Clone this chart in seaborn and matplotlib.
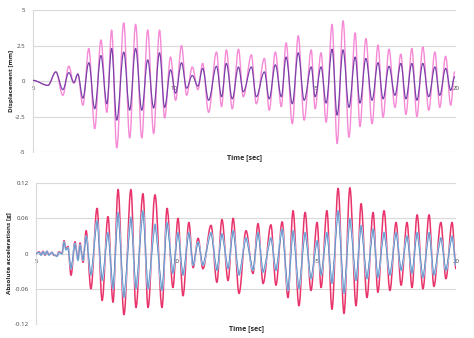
import matplotlib
matplotlib.use("Agg")
import matplotlib.pyplot as plt
from matplotlib.path import Path
from matplotlib.patches import PathPatch
import seaborn as sns
import pandas as pd

# Displacement record: times of successive peaks/troughs [sec] and values [mm]
disp_time = [5.00, 5.53, 5.81, 6.06, 6.27, 6.45, 6.59, 6.77, 6.98, 7.19,
             7.41, 7.62, 7.79, 7.97, 8.22, 8.43, 8.64, 8.86, 9.07, 9.28,
             9.49, 9.67, 9.88, 10.06, 10.27, 10.45, 10.65, 10.85, 11.02, 11.23,
             11.51, 11.69, 11.86, 12.07, 12.29, 12.46, 12.75, 12.92, 13.21, 13.38,
             13.60, 13.81, 13.98, 14.20, 14.41, 14.62, 14.87, 15.01, 15.22, 15.40,
             15.61, 15.79, 16.00, 16.21, 16.43, 16.60, 16.81, 17.03, 17.24, 17.42,
             17.63, 17.84, 18.05, 18.23, 18.44, 18.62, 18.83, 19.04, 19.26, 19.43,
             19.64, 19.82, 19.96]
disp_table = [0.05, -0.3, 0.65, -1.0, 1.05, -0.15, 0.5, -1.7, 2.3, -3.35,
              2.9, -2.2, 3.6, -4.7, 4.1, -4.0, 4.0, -4.0, 3.6, -3.7,
              3.6, -2.6, 1.7, -1.35, 2.5, -1.0, 1.0, -0.6, 1.25, -2.2,
              2.05, -1.8, 2.2, -1.95, 2.25, -1.1, 1.85, -1.6, 1.6, -2.05,
              2.05, -1.8, 2.7, -3.0, 3.2, -2.75, 2.2, -1.95, 2.0, -2.9,
              4.0, -4.4, 4.25, -3.95, 3.4, -3.2, 3.0, -3.0, 2.55, -2.55,
              2.25, -1.85, 1.9, -2.35, 2.3, -2.5, 2.4, -2.05, 2.05, -1.85,
              1.75, -1.7, 0.65]
disp_model = [0.05, -0.3, 0.65, -0.6, 0.6, -0.1, 0.5, -1.2, 1.3, -1.95,
              1.8, -1.6, 2.3, -2.75, 2.05, -2.05, 2.3, -2.05, 1.5, -1.9,
              2.0, -1.85, 0.8, -0.85, 1.3, -0.5, 0.4, -0.35, 0.9, -1.35,
              1.05, -1.1, 1.25, -1.25, 1.0, -0.75, 1.0, -1.1, 0.65, -1.25,
              1.15, -1.1, 1.7, -1.6, 2.0, -1.35, 1.0, -1.1, 1.0, -1.55,
              2.25, -2.4, 2.2, -1.85, 1.7, -1.55, 1.6, -1.35, 1.3, -1.25,
              1.05, -1.0, 1.25, -1.25, 1.25, -1.35, 1.25, -1.1, 1.0, -1.0,
              0.9, -0.65, 0.3]

# Absolute acceleration record: times [sec] and values [g]
acc_time = [5.00, 5.11, 5.18, 5.25, 5.32, 5.39, 5.46, 5.57, 5.64, 5.75,
            5.82, 5.93, 6.00, 6.07, 6.14, 6.25, 6.39, 6.50, 6.57, 6.68,
            6.79, 6.96, 7.18, 7.36, 7.57, 7.75, 7.93, 8.14, 8.39, 8.57,
            8.82, 9.00, 9.25, 9.50, 9.68, 9.89, 10.07, 10.25, 10.46, 10.61,
            10.79, 10.96, 11.25, 11.46, 11.64, 11.86, 12.04, 12.25, 12.50, 12.75,
            12.93, 13.11, 13.39, 13.57, 13.79, 14.00, 14.18, 14.39, 14.61, 14.82,
            15.04, 15.18, 15.39, 15.57, 15.79, 16.00, 16.21, 16.43, 16.61, 16.82,
            17.04, 17.21, 17.43, 17.64, 17.86, 18.04, 18.25, 18.43, 18.61, 18.82,
            19.04, 19.21, 19.46, 19.64, 19.86, 20.00]
acc_table = [0.0, 0.003, -0.002, 0.004, -0.003, 0.004, -0.002, 0.002, -0.003, -0.004,
             0.003, 0.0, 0.022, 0.008, 0.012, -0.037, 0.02, -0.01, 0.018, -0.015,
             0.039, -0.06, 0.077, -0.08, 0.063, -0.083, 0.109, -0.104, 0.109, -0.092,
             0.102, -0.092, 0.1, -0.092, 0.077, -0.058, 0.06, -0.072, 0.053, -0.024,
             0.026, -0.026, 0.048, -0.049, 0.058, -0.046, 0.06, -0.068, 0.039, -0.034,
             0.051, -0.051, 0.049, -0.054, 0.054, -0.075, 0.073, -0.089, 0.07, -0.063,
             0.053, -0.058, 0.073, -0.095, 0.111, -0.102, 0.112, -0.089, 0.085, -0.075,
             0.07, -0.066, 0.073, -0.063, 0.053, -0.054, 0.053, -0.058, 0.066, -0.06,
             0.066, -0.056, 0.053, -0.043, 0.053, -0.026]
acc_model = [0.0, 0.002, -0.003, 0.003, -0.002, 0.004, -0.003, 0.002, -0.002, -0.005,
             0.002, -0.001, 0.02, 0.006, 0.01, -0.026, 0.017, -0.012, 0.015, -0.012,
             0.03, -0.037, 0.056, -0.046, 0.036, -0.06, 0.07, -0.075, 0.062, -0.06,
             0.073, -0.06, 0.05, -0.063, 0.053, -0.034, 0.036, -0.037, 0.036, -0.02,
             0.02, -0.02, 0.036, -0.029, 0.034, -0.026, 0.039, -0.037, 0.027, -0.029,
             0.036, -0.032, 0.027, -0.029, 0.042, -0.063, 0.039, -0.06, 0.036, -0.043,
             0.022, -0.037, 0.036, -0.051, 0.073, -0.068, 0.06, -0.046, 0.048, -0.043,
             0.042, -0.041, 0.036, -0.037, 0.036, -0.029, 0.03, -0.034, 0.036, -0.041,
             0.036, -0.037, 0.027, -0.029, 0.03, -0.02]

x_ticks = [5, 10, 15, 20]
disp_ticks = [-5, -2.5, 0, 2.5, 5]
disp_tick_labels = ["-5", "-2.5", "0", "2.5", "5"]
acc_ticks = [-0.12, -0.06, 0, 0.06, 0.12]
acc_tick_labels = ["-0.12", "-0.06", "0", "0.06", "0.12"]

sns.set_theme(style="white")
plt.rcParams["font.family"] = ["Open Sans", "DejaVu Sans"]

GRID = "#d9d9d9"
TXT = "#404040"


def wave(ax, t, y, color, lw, z, alpha=1.0):
    """Smooth curve through successive extrema (horizontal tangent at each)."""
    k = 0.36
    verts = [(t[0], y[0])]
    codes = [Path.MOVETO]
    for i in range(len(t) - 1):
        dt = t[i + 1] - t[i]
        verts += [(t[i] + k * dt, y[i]), (t[i + 1] - k * dt, y[i + 1]),
                  (t[i + 1], y[i + 1])]
        codes += [Path.CURVE4] * 3
    ax.add_patch(PathPatch(Path(verts, codes), fill=False, edgecolor=color,
                           lw=lw, zorder=z, alpha=alpha,
                           capstyle="round", joinstyle="round"))


def style(ax, yticks, ylabels, ylim, xpad):
    ax.set_xlim(5, 20)
    ax.set_ylim(*ylim)
    ax.set_yticks(yticks)
    ax.set_yticklabels(ylabels)
    ax.set_xticks(x_ticks)
    ax.set_xticklabels([str(v) for v in x_ticks])
    for s in ["top", "right"]:
        ax.spines[s].set_visible(False)
    ax.spines["left"].set_color(GRID)
    ax.spines["left"].set_linewidth(0.8)
    ax.spines["bottom"].set_position(("data", 0))
    ax.spines["bottom"].set_color(GRID)
    ax.spines["bottom"].set_linewidth(0.8)
    ax.yaxis.grid(True, color=GRID, lw=0.8)
    ax.xaxis.grid(False)
    ax.set_axisbelow(True)
    ax.tick_params(axis="y", length=0, pad=5.5, labelsize=4.4, labelcolor=TXT)
    ax.tick_params(axis="x", length=0, pad=xpad, labelsize=4.4, labelcolor=TXT)
    for lbl in ax.get_xticklabels():
        lbl.set_zorder(10)
    ax.set_xlabel("")
    ax.set_ylabel("")
    ax.set_facecolor("white")


fig = plt.figure(figsize=(4.74, 3.38), dpi=100)
ax1 = fig.add_axes([0.0696, 0.550, 0.892, 0.420])
ax2 = fig.add_axes([0.0760, 0.0414, 0.886, 0.417])

# Displacement
wave(ax1, disp_time, disp_table, "#f58ad6", 1.0, 3)
wave(ax1, disp_time, disp_model, "#7540a8", 0.85, 4)
style(ax1, disp_ticks, disp_tick_labels, (-5, 5), 3.5)

# Absolute acceleration
acc_df = pd.DataFrame({"time": acc_time, "model": acc_model})
wave(ax2, acc_time, acc_table, "#e8336b", 1.1, 3)
wave(ax2, acc_time, acc_model, "#93d3f2", 1.1, 4)
sns.lineplot(data=acc_df, x="time", y="model", ax=ax2, color="#3d4f9f",
             lw=0.45, alpha=0.7, zorder=5, estimator=None)
style(ax2, acc_ticks, acc_tick_labels, (-0.12, 0.12), 4.0)

fig.text(0.515, 0.535, "Time [sec]", ha="center", va="center",
         fontsize=5, fontweight="bold", color="#262626")
fig.text(0.521, 0.027, "Time [sec]", ha="center", va="center",
         fontsize=5, fontweight="bold", color="#262626")
fig.text(0.024, 0.760, "Displacement [mm]", ha="center", va="center",
         rotation=90, fontsize=4.6, fontweight="bold", color="#262626")
fig.text(0.021, 0.250, "Absolute accelerations [g]", ha="center", va="center",
         rotation=90, fontsize=4.6, fontweight="bold", color="#262626")

fig.savefig("out.png", dpi=100)
